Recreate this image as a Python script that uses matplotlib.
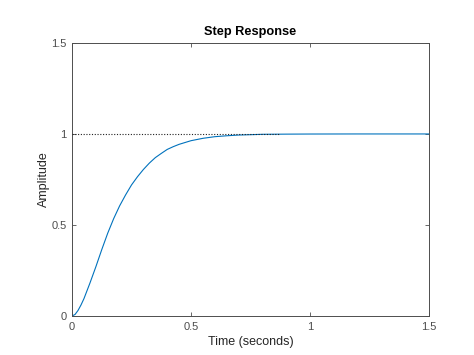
import matplotlib.pyplot as plt

plt.rcParams["font.family"] = ["Liberation Sans", "DejaVu Sans"]

# step response
time = [0.0, 0.0125, 0.025, 0.0375, 0.05, 0.075, 0.1, 0.125, 0.15, 0.175,
        0.2, 0.225, 0.25, 0.275, 0.3, 0.325, 0.35, 0.375, 0.4, 0.425, 0.45,
        0.5, 0.55, 0.6, 0.65, 0.7, 0.8, 0.9, 1.0, 1.2, 1.5]
amplitude = [0.0, 0.008, 0.03, 0.06, 0.095, 0.18, 0.27, 0.365, 0.455, 0.535,
             0.605, 0.665, 0.72, 0.765, 0.805, 0.84, 0.87, 0.893, 0.915,
             0.93, 0.943, 0.963, 0.976, 0.985, 0.990, 0.994, 0.998, 0.999,
             0.9996, 1.0, 1.0]
final_value = 1.0
settle_end = 0.87

xticks = [0, 0.5, 1, 1.5]
yticks = [0, 0.5, 1, 1.5]
tick_labels = ["0", "0.5", "1", "1.5"]

fig = plt.figure(figsize=(4.74, 3.55), dpi=100)
ax = fig.add_axes([0.152, 0.110, 0.753, 0.769])

ax.plot(time, amplitude, color="#0072BD", linewidth=0.8, zorder=2)
ax.plot([0, settle_end], [final_value, final_value], color="#222222",
        linestyle=(0, (1, 1.5)), linewidth=0.8, zorder=3)

ax.set_xlim(0, 1.5)
ax.set_ylim(0, 1.5)
ax.set_xticks(xticks)
ax.set_yticks(yticks)
ax.set_xticklabels(tick_labels)
ax.set_yticklabels(tick_labels)

ax.tick_params(direction="in", length=3, width=0.6, colors="#4d4d4d",
               labelsize=8, top=True, right=True, pad=4)
for s in ax.spines.values():
    s.set_color("#4d4d4d")
    s.set_linewidth(0.7)

ax.set_title("Step Response", fontsize=9.2, fontweight="bold", pad=6)
ax.set_xlabel("Time (seconds)", fontsize=9, color="#262626", labelpad=3)
ax.set_ylabel("Amplitude", fontsize=9, color="#262626", labelpad=1)

fig.savefig("out.png", dpi=100)
